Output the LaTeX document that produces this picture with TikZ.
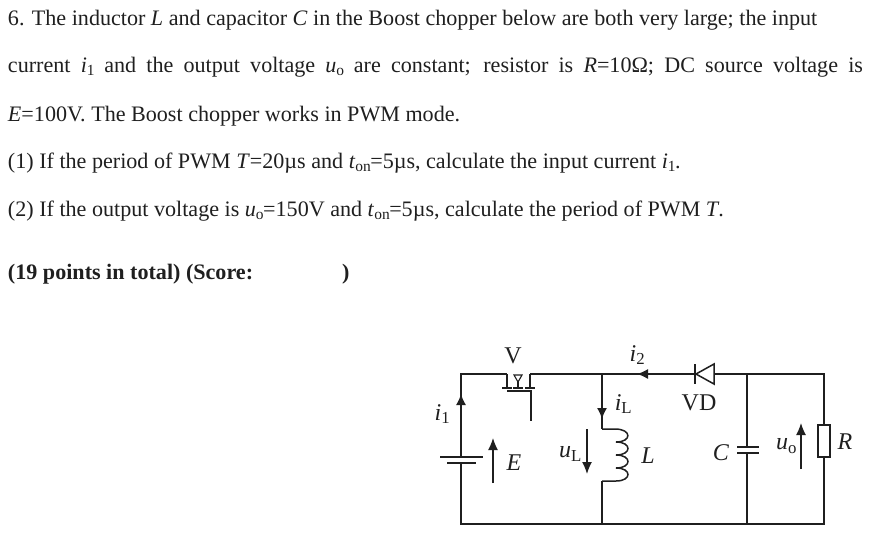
\documentclass[tikz,border=0pt]{standalone}
\usepackage{fontspec}
\setmainfont{Liberation Serif}
\usetikzlibrary{arrows.meta}
\definecolor{ink}{gray}{0.12}
\newcommand{\va}[1]{\textit{#1}}
\newcommand{\sub}[1]{\textsubscript{#1}\kern-1pt\relax}
\newcommand{\qline}[3]{
  \node [qtext] (#1) at (8,#2) {#3};
}
\newcommand{\arrowup}[4]{
  \coordinate (#1a) at (#2,#3);
  \coordinate (#1b) at (#2,#4);
  \draw [volt] (#1a) -- (#1b);
}
\tikzset{
  qtext/.style={anchor=base west, inner sep=0pt, outer sep=0pt, text=ink, font=\fontsize{22.1}{24}\selectfont},
  clabel/.style={inner sep=0pt, outer sep=0pt, text=ink, font=\fontsize{24}{26}\selectfont},
  wire/.style={draw=ink, line width=1.5pt},
  volt/.style={draw=ink, line width=1.3pt, -{Latex[length=12pt,width=10pt]}},
  tip/.style={draw=ink, line width=1.5pt, -{Latex[length=11pt,width=10pt]}}
}
\begin{document}
\begin{tikzpicture}[x=1pt,y=-1pt]
\useasboundingbox (0,0) rectangle (892,558);
\qline{qa}{25}{6. The inductor \va{L} and capacitor \va{C} in the Boost chopper below are both very large; the input}
\qline{qb}{72}{\hbox to 855pt{current \va{i}\sub{1} and the output voltage \va{u}\sub{o} are constant; resistor is \va{R}=10Ω; DC source voltage is}}
\qline{qc}{121}{\va{E}=100V. The Boost chopper works in PWM mode.}
\qline{qd}{168.5}{(1) If the period of PWM \va{T}=20µs and \va{t}\sub{on}=5µs, calculate the input current \va{i}\sub{1}.}
\qline{qe}{216.5}{(2) If the output voltage is \va{u}\sub{o}=150V and \va{t}\sub{on}=5µs, calculate the period of PWM \va{T}.}
\qline{qf}{279}{\textbf{(19 points in total) (Score:}}
\node [qtext] (qg) at (342,279) {\textbf{)}};
% corners of the circuit
\coordinate (tl) at (461,374);
\coordinate (bl) at (461,524);
\coordinate (tm) at (602,374);
\coordinate (bm) at (602,524);
\coordinate (tc) at (747,374);
\coordinate (bc) at (747,524);
\coordinate (tr) at (824,374);
\coordinate (br) at (824,524);
\coordinate (capa) at (747,447);
\coordinate (capb) at (747,453);
\coordinate (bata) at (461,457);
\coordinate (batb) at (461,463);
\coordinate (ltop) at (602,429);
\coordinate (lbot) at (602,481);
\coordinate (msrc) at (507,374);
\coordinate (mdrn) at (530,374);
\node [draw=ink, line width=1.5pt, minimum width=12pt, minimum height=32pt, inner sep=0pt] (res) at (824,441) {};
% outer loop
\draw [wire] (batb) -- (bl) -- (br) -- (res.south);
\draw [wire] (res.north) -- (tr) -- (mdrn);
\draw [wire] (bata) -- (tl) -- (msrc);
\draw [wire] (tm) -- (ltop);
\draw [wire] (lbot) -- (bm);
\draw [wire] (tc) -- (capa);
\draw [wire] (capb) -- (bc);
% battery and capacitor plates
\draw [wire] (440,457) -- (483,457);
\draw [wire] (447,463) -- (476,463);
\draw [wire] (737,447) -- (759,447);
\draw [wire] (737,453) -- (759,453);
% inductor
\draw [wire] (ltop) -- (615,429)
  \foreach \n in {0,...,3}{
    .. controls (632,429+13*\n) and (632,442+13*\n) .. (616,442+13*\n)
  } -- (lbot);
% switch
\draw [wire] (msrc) -- (507,388);
\draw [wire] (mdrn) -- (530,388);
\draw [wire] (518,382) -- (518,388);
\foreach \x in {507,518,530}
  \draw [wire] (\x-5,388) -- (\x+5,388);
\draw [wire] (507,391) -- (531,391) -- (531,421);
\draw [draw=ink, line width=1.1pt, fill=white] (514,375) -- (522,375) -- (518,382) -- cycle;
% diode
\draw [wire, fill=white] (714,364) -- (714,384) -- (696,374) -- cycle;
\draw [wire] (695,364) -- (695,384);
% current arrows
\coordinate (ione) at (461,394);
\coordinate (iones) at (461,412);
\draw [tip] (iones) -- (ione);
\coordinate (ilone) at (602,398);
\coordinate (iltip) at (602,419);
\draw [tip] (ilone) -- (iltip);
\coordinate (itwo) at (660,374);
\coordinate (itwotip) at (637,374);
\draw [tip] (itwo) -- (itwotip);
% voltage arrows
\arrowup{ve}{493}{483}{438}
\arrowup{vl}{587}{429}{474}
\arrowup{vo}{801}{469}{423}
% labels
\node [clabel] (lv) at (513,356) {V};
\node [clabel] (lia) at (442,414) {\va{i}\sub{1}};
\node [clabel] (le) at (514,463) {\va{E}};
\node [clabel] (lul) at (570,454) {\va{u}\sub{L}};
\node [clabel] (lil) at (623,404) {\va{i}\sub{L}};
\node [clabel] (lib) at (637,355) {\va{i}\sub{2}};
\node [clabel] (ll) at (648,456) {\va{L}};
\node [clabel] (lvd) at (699,403) {VD};
\node [clabel] (lc) at (721,453) {\va{C}};
\node [clabel] (luo) at (786,446) {\va{u}\sub{o}};
\node [clabel] (lr) at (845,442) {\va{R}};
\end{tikzpicture}
\end{document}
